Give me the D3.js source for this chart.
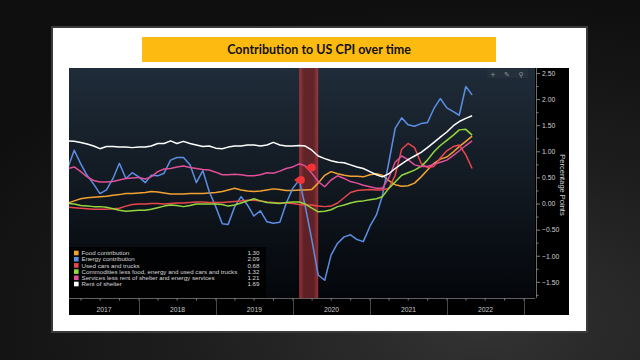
<!DOCTYPE html>
<html><head><meta charset="utf-8">
<script src="https://cdn.jsdelivr.net/npm/d3@7"></script>
<style>html,body{margin:0;padding:0;background:#1b1b1b;}svg{display:block}</style>
</head><body>
<svg id="c" width="640" height="360"></svg>
<script>
// ---------- DATA ----------
const title = "Contribution to US CPI over time";
const startMonth = "2017-01"; // month-end observations Jan 2017 .. Apr 2022
const seriesNames = ["Food contribution","Energy contribution","Used cars and trucks",
  "Commodities less food, energy and used cars and trucks","Services less rent of shelter and energy services","Rent of shelter"];
const legendValues = ["1.30","2.09","0.68","1.32","1.21","1.69"];
const food = [0.02,0.06,0.10,0.12,0.13,0.14,0.15,0.17,0.18,0.20,0.20,0.21,0.22,0.24,0.23,0.21,0.19,0.19,0.19,0.20,0.20,0.20,0.21,0.22,0.24,0.27,0.30,0.27,0.25,0.24,0.25,0.27,0.29,0.28,0.26,0.26,0.27,0.27,0.28,0.40,0.55,0.62,0.58,0.55,0.53,0.53,0.52,0.56,0.58,0.55,0.45,0.37,0.34,0.35,0.40,0.52,0.65,0.78,0.86,0.90,1.00,1.10,1.20,1.30];
const energy = [0.72,1.03,0.77,0.55,0.38,0.20,0.27,0.49,0.78,0.49,0.60,0.52,0.41,0.55,0.54,0.59,0.84,0.89,0.89,0.75,0.41,0.64,0.24,-0.05,-0.38,-0.39,-0.05,0.14,-0.02,-0.23,-0.13,-0.34,-0.37,-0.35,0.01,0.30,0.46,-0.05,-0.69,-1.36,-1.46,-0.98,-0.75,-0.63,-0.59,-0.68,-0.72,-0.43,-0.21,0.15,0.80,1.45,1.65,1.52,1.49,1.54,1.56,1.83,2.02,1.84,1.77,1.70,2.25,2.09];
const usedCars = [-0.06,-0.07,-0.08,-0.09,-0.10,-0.10,-0.10,-0.09,-0.08,-0.04,-0.01,0.00,0.00,0.01,0.01,0.00,0.01,0.02,0.02,0.03,0.04,0.04,0.03,0.03,0.03,0.04,0.05,0.06,0.07,0.07,0.06,0.04,0.03,0.02,0.02,0.01,-0.01,-0.02,-0.02,-0.04,-0.05,-0.04,0.02,0.12,0.22,0.26,0.27,0.28,0.27,0.27,0.30,0.55,1.05,1.16,1.08,0.78,0.70,0.72,0.88,1.02,1.10,1.13,0.94,0.68];
const commodities = [0.01,0.00,-0.03,-0.04,-0.05,-0.05,-0.06,-0.09,-0.12,-0.14,-0.13,-0.12,-0.12,-0.10,-0.07,-0.04,-0.02,-0.03,-0.05,-0.03,0.00,0.00,0.00,0.00,-0.01,-0.04,-0.02,0.02,0.06,0.10,0.06,0.03,0.02,0.01,0.03,0.04,0.04,0.00,-0.08,-0.15,-0.14,-0.11,-0.05,-0.02,0.02,0.05,0.06,0.08,0.10,0.14,0.30,0.42,0.55,0.60,0.65,0.72,0.84,1.00,1.12,1.22,1.32,1.42,1.43,1.32];
const services = [0.68,0.71,0.62,0.52,0.45,0.42,0.42,0.43,0.46,0.49,0.50,0.51,0.48,0.52,0.62,0.67,0.68,0.71,0.73,0.70,0.68,0.66,0.65,0.61,0.56,0.56,0.57,0.56,0.54,0.54,0.56,0.60,0.59,0.63,0.68,0.71,0.77,0.73,0.59,0.43,0.33,0.46,0.54,0.49,0.43,0.40,0.36,0.33,0.30,0.30,0.50,0.80,0.92,0.85,0.75,0.72,0.72,0.76,0.80,0.84,0.93,1.02,1.12,1.21];
const rent = [1.21,1.20,1.18,1.15,1.11,1.06,1.10,1.10,1.09,1.09,1.08,1.09,1.09,1.11,1.16,1.16,1.21,1.16,1.20,1.16,1.13,1.10,1.11,1.07,1.06,1.09,1.11,1.11,1.13,1.13,1.11,1.13,1.18,1.13,1.11,1.11,1.12,1.11,1.03,0.92,0.87,0.83,0.80,0.79,0.75,0.71,0.68,0.62,0.56,0.52,0.58,0.68,0.77,0.85,0.92,0.99,1.08,1.18,1.28,1.38,1.50,1.58,1.64,1.69];
const yTicks = [2.5,2.0,1.5,1.0,0.5,0.0,-0.5,-1.0,-1.5];
const yearLabels = ["2017","2018","2019","2020","2021","2022"];
const recession = ["2020-01-31","2020-04-30"];
const markers = [{date:"2020-02-08",value:0.46},{date:"2020-03-31",value:0.70}];
const colors = ["#f2a232","#5b8fe4","#e9474c","#93d63e","#e04f98","#ffffff"];
const allSeries = [food,energy,usedCars,commodities,services,rent];

// ---------- LAYOUT ----------
const svg = d3.select("#c");
const P = {l:69, r:535, t:68, b:298};
const parse = d3.timeParse("%Y-%m-%d");
const m0 = d3.timeParse("%Y-%m")(startMonth);
const dates = food.map((_,i)=> new Date(m0.getFullYear(), m0.getMonth()+i+1, 0));

const x = d3.scaleTime().domain([new Date(2017,0,1), new Date(2023,0,1)]).range([62,524]);
const y = d3.scaleLinear().domain([-1.80, 2.605]).range([P.b, P.t]);

const defs = svg.append("defs");
const bg = defs.append("radialGradient").attr("id","bg").attr("cx","0.75").attr("cy","0.9").attr("r","0.9");
bg.append("stop").attr("offset","0").attr("stop-color","#333");
bg.append("stop").attr("offset","0.5").attr("stop-color","#1e1e1e");
bg.append("stop").attr("offset","1").attr("stop-color","#0f0f0f");
const pg = defs.append("linearGradient").attr("id","pg").attr("x1",0).attr("y1",0).attr("x2",0).attr("y2",1);
pg.append("stop").attr("offset","0").attr("stop-color","#1f2c39");
pg.append("stop").attr("offset","1").attr("stop-color","#04060a");
const rg = defs.append("linearGradient").attr("id","rg").attr("x1",0).attr("y1",0).attr("x2",1).attr("y2",0);
rg.append("stop").attr("offset","0").attr("stop-color","#b03c40");
rg.append("stop").attr("offset","0.25").attr("stop-color","#6e2428");
rg.append("stop").attr("offset","0.75").attr("stop-color","#6e2428");
rg.append("stop").attr("offset","1").attr("stop-color","#b03c40");
defs.append("clipPath").attr("id","clip").append("rect")
  .attr("x",P.l).attr("y",P.t).attr("width",P.r-P.l).attr("height",P.b-P.t);

// outer background + white panel
svg.append("rect").attr("width",640).attr("height",360).attr("fill","url(#bg)");
svg.append("rect").attr("x",51).attr("y",26).attr("width",537).attr("height",307).attr("fill","#3a3a3a");
svg.append("rect").attr("x",53).attr("y",28).attr("width",533).attr("height",303).attr("fill","#ffffff");

// title
svg.append("rect").attr("x",142).attr("y",37).attr("width",354).attr("height",25).attr("fill","#fdbb12");
svg.append("text").attr("x",319).attr("y",54).attr("text-anchor","middle")
  .attr("font-family","Lato, 'Open Sans', sans-serif").attr("font-weight","bold").attr("font-size",12.5)
  .attr("fill","#111").text(title);

// chart frame
svg.append("rect").attr("x",69).attr("y",68).attr("width",500).attr("height",247).attr("fill","#000");
svg.append("rect").attr("x",P.l).attr("y",P.t).attr("width",P.r-P.l).attr("height",P.b-P.t).attr("fill","url(#pg)");

// recession band
const plot = svg.append("g").attr("clip-path","url(#clip)");
plot.append("rect").attr("x",x(parse(recession[0]))).attr("y",P.t)
  .attr("width",x(parse(recession[1]))-x(parse(recession[0]))).attr("height",P.b-P.t)
  .attr("fill","url(#rg)").attr("opacity",0.85);

// lines
const line = d3.line().x((d,i)=>x(dates[i])).y(d=>y(d));
allSeries.forEach((s,k)=>{
  plot.append("path").datum(s).attr("d",line).attr("fill","none")
    .attr("stroke",colors[k]).attr("stroke-width",1.5).attr("stroke-linejoin","round");
});

// event markers
markers.forEach(m=>{
  const cx = x(parse(m.date)), cy = y(m.value);
  const g = plot.append("g").attr("transform",`translate(${cx},${cy})`);
  g.append("path").attr("d",d3.symbol(d3.symbolCircle,50)()).attr("fill","#ee3438");
  g.append("path").attr("d","M-3,-2.8L-7,0L-3,2.8Z").attr("fill","#ee3438");
});

// toolbar
svg.append("rect").attr("x",487).attr("y",69).attr("width",41).attr("height",9).attr("fill","#26313b").attr("opacity",0.9);
[["+",493],["✎",507],["⚲",521]].forEach(([t,xx])=>{
  svg.append("text").attr("x",xx).attr("y",76.5).attr("text-anchor","middle").attr("font-size",7)
    .attr("font-family","DejaVu Sans").attr("fill","#8a96a2").text(t);
});

// legend
const lg = svg.append("g");
lg.append("rect").attr("x",69).attr("y",247).attr("width",197).attr("height",51).attr("fill","#000").attr("opacity",0.8);
seriesNames.forEach((n,k)=>{
  const yy = 253 + k*6.2;
  lg.append("rect").attr("x",74).attr("y",yy-2.3).attr("width",4.6).attr("height",4.6).attr("fill",colors[k]);
  lg.append("text").attr("x",81.5).attr("y",yy+2.1).attr("font-family","'Liberation Sans', Arial, sans-serif")
    .attr("font-size",6.2).attr("fill","#d8d8d8").text(n);
  lg.append("text").attr("x",259.5).attr("y",yy+2.1).attr("text-anchor","end").attr("font-family","'Liberation Sans', Arial, sans-serif")
    .attr("font-size",6.2).attr("fill","#d8d8d8").text(legendValues[k]);
});

// right axis
const ax = svg.append("g");
ax.append("line").attr("x1",536.5).attr("x2",536.5).attr("y1",P.t).attr("y2",P.b).attr("stroke","#8c857a").attr("stroke-width",0.8);
d3.range(-1.75,2.6,0.25).forEach(v=>{
  const major = Math.abs(v*2-Math.round(v*2))<1e-6;
  ax.append("line").attr("x1",536.5).attr("x2",major?540:538.5).attr("y1",y(v)).attr("y2",y(v))
    .attr("stroke","#a8a090").attr("stroke-width",0.8);
});
yTicks.forEach(v=>{
  ax.append("text").attr("x",542).attr("y",y(v)+2.3).attr("font-family","'Liberation Sans', Arial, sans-serif")
    .attr("font-size",6.8).attr("fill","#d0d0d0").text(d3.format(".2f")(v));
});
svg.append("text").attr("transform","translate(560,185) rotate(90)").attr("text-anchor","middle")
  .attr("font-family","'Liberation Sans', Arial, sans-serif").attr("font-size",7.5).attr("fill","#d8d8d8").text("Percentage Points");

// bottom axis
const bx = svg.append("g");
bx.append("line").attr("x1",P.l).attr("x2",P.r).attr("y1",298.5).attr("y2",298.5).attr("stroke","#7a7a7a").attr("stroke-width",0.8);
d3.timeMonth.every(3).range(new Date(2017,0,1), new Date(2023,3,1)).forEach(d=>{
  const xx = x(d); if (xx<P.l||xx>P.r) return;
  bx.append("line").attr("x1",xx).attr("x2",xx).attr("y1",298.5).attr("y2",300.5).attr("stroke","#9a9a9a").attr("stroke-width",0.8);
});
d3.range(2018,2024).forEach(yr=>{
  const xx = Math.round(x(new Date(yr,0,1)))+0.5;
  bx.append("line").attr("x1",xx).attr("x2",xx).attr("y1",298.5).attr("y2",315).attr("stroke","#5a5a5a").attr("stroke-width",0.8);
});
yearLabels.forEach(lbl=>{
  const yr = +lbl;
  const a = Math.max(P.l, x(new Date(yr,0,1))), b = Math.min(P.r, x(new Date(yr+1,0,1)));
  bx.append("text").attr("x",(a+b)/2).attr("y",312).attr("text-anchor","middle")
    .attr("font-family","'Liberation Sans', Arial, sans-serif").attr("font-size",6.8).attr("fill","#c8c8c8").text(lbl);
});
</script>
</body></html>
